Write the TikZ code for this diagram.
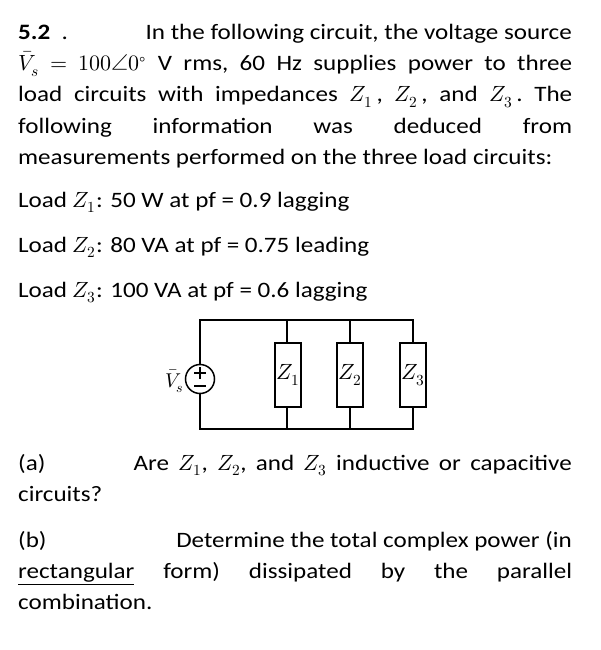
\documentclass[tikz,border=0pt]{standalone}
\usepackage{fontspec}
\usepackage{unicode-math}
\setmainfont[FakeStretch=1.14]{Carlito}
\setmathfont{Latin Modern Math}
\begin{document}
\begin{tikzpicture}[x=1pt,y=-1pt,
  txt/.style={anchor=base west,inner sep=0pt,font=\fontsize{22}{31}\selectfont},
  txr/.style={anchor=base east,inner sep=0pt,font=\fontsize{22}{31}\selectfont},
  wire/.style={line width=2.6pt},
  zbox/.style={draw,line width=2.6pt,fill=white,minimum width=26pt,minimum height=64pt,inner sep=0pt,font=\fontsize{22}{24}\selectfont}]
\useasboundingbox (0,0) rectangle (601,650);
\def\W{554pt}
\node[txt] (l1a) at (18,40) {\textbf{5.2} \ .};
\node[txr] (l1b) at (572,40) {In the following circuit, the voltage source};
\node[txt] (l2) at (18,71) {\hbox to \W{$\bar V_s$\hfill$=$\hfill$100\angle0^\circ$\hfill V\hfill rms,\hfill 60\hfill Hz\hfill supplies\hfill power\hfill to\hfill three}};
\node[txt] (l3) at (18,102) {\hbox to \W{load\hfill circuits\hfill with\hfill impedances\hfill $Z_1$\,,\hfill $Z_2$\,,\hfill and\hfill $Z_3$\,.\hfill The}};
\node[txt] (l4) at (18,133) {\hbox to \W{following\hfill information\hfill was\hfill deduced\hfill from}};
\node[txt] (l5) at (18,164) {measurements performed on the three load circuits:};
\node[txt] (d1) at (18,207) {Load $Z_1$: 50 W at pf = 0.9 lagging};
\node[txt] (d2) at (18,252) {Load $Z_2$: 80 VA at pf = 0.75 leading};
\node[txt] (d3) at (18,297) {Load $Z_3$: 100 VA at pf = 0.6 lagging};
% circuit
\coordinate (tl) at (200,320); \coordinate (bl) at (200,429);
\coordinate (tr) at (413,320); \coordinate (br) at (413,429);
\draw[wire] (bl) -- (tl) -- (tr) -- (br) -- cycle;
\draw[wire] (287,320) -- (287,429);
\draw[wire] (350,320) -- (350,429);
\node[zbox] (z1) at (288,375) {$Z_1$};
\node[zbox] (z2) at (350,375) {$Z_2$};
\node[zbox] (z3) at (413,375) {$Z_3$};
\node[draw,circle,line width=1.5pt,fill=white,minimum size=29pt,inner sep=0pt] (vs) at (200,379) {};
\draw[line width=2pt] (194,373) -- (206,373) (200,367) -- (200,379) (194,386) -- (206,386);
\node[anchor=east,inner sep=0pt,font=\fontsize{20}{22}\selectfont] (vsl) at (184,381) {$\bar V_s$};
% questions
\node[txt] (a1) at (18,470) {(a)};
\node[txr] (a2) at (572,470) {Are \,$Z_1$, \,$Z_2$, \,and \,$Z_3$ \,inductive \,or \,capacitive};
\node[txt] (a3) at (18,501) {circuits?};
\node[txt] (b1) at (18,547) {(b)};
\node[txr] (b2) at (572,547) {Determine the total complex power (in};
\node[txt] (b3) at (18,578) {\hbox to \W{\underline{rectangular}\hfill form)\hfill dissipated\hfill by\hfill the\hfill parallel}};
\node[txt] (b4) at (18,609) {combination.};
\end{tikzpicture}
\end{document}
